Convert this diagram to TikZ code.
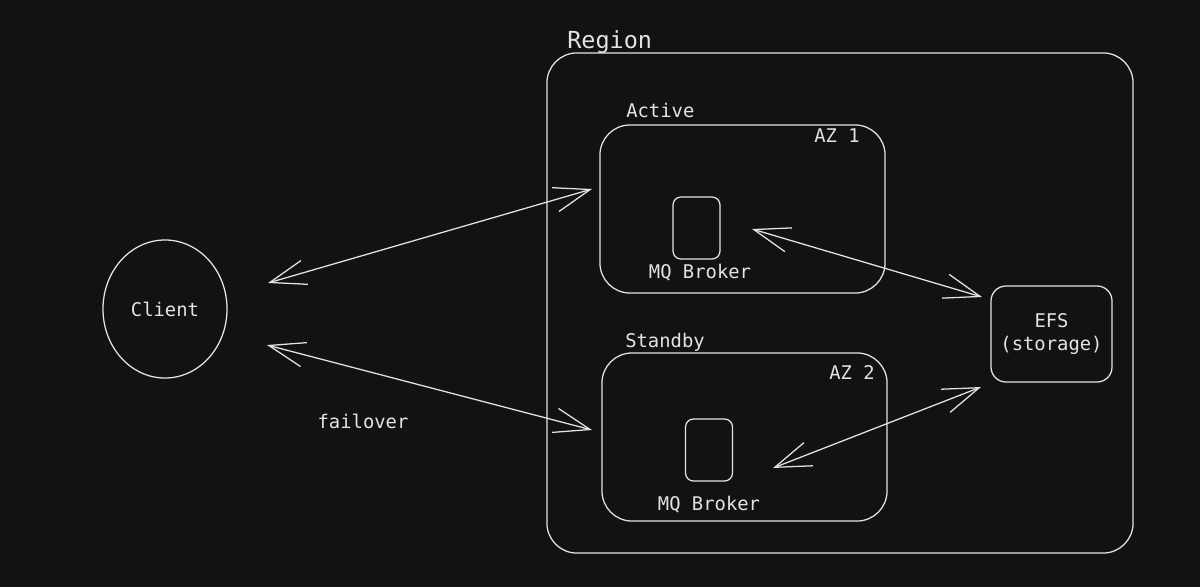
\documentclass[tikz,border=0pt]{standalone}
\usepackage{fontspec}
\setmonofont{DejaVu Sans Mono}
\usetikzlibrary{shapes.geometric,arrows.meta}
\definecolor{bgdark}{HTML}{121212}
\definecolor{ink}{HTML}{E3E3E3}

\begin{document}
\begin{tikzpicture}[x=0.025cm, y=-0.025cm,
  sketch/.style={draw=ink, line width=0.9pt},
  zone/.style={sketch, rounded corners=0.75cm, minimum width=7.125cm, minimum height=4.2cm},
  broker/.style={sketch, rounded corners=0.2cm, minimum width=1.175cm, minimum height=1.55cm},
  txt/.style={text=ink, font=\ttfamily\fontsize{13.4}{17}\selectfont, inner sep=0pt},
  link/.style={draw=ink, line width=0.9pt,
    {Straight Barb[length=9mm,width=6.2mm]}-{Straight Barb[length=9mm,width=6.2mm]}},
]
\fill[bgdark] (0,0) rectangle (1200,587);
\useasboundingbox (0,0) rectangle (1200,587);

% === REGION with two availability zones ===
\node[sketch, rounded corners=0.75cm, minimum width=14.65cm, minimum height=12.5cm] (region) at (840,303) {};
\node[txt, anchor=base west, font=\ttfamily\fontsize{16.7}{20}\selectfont] (region-lbl) at (567,48) {Region};

\node[zone] (az1) at (742.5,209) {};
\node[txt, anchor=base west] (az1-role) at (626,117) {Active};
\node[txt, anchor=base east] (az1-lbl)  at (860,142) {AZ 1};
\node[broker] (brk1) at (696.5,228) {};
\node[txt, anchor=base] (brk1-lbl) at (700,278) {MQ Broker};

\node[zone] (az2) at (744.5,437) {};
\node[txt, anchor=base west] (az2-role) at (625,347) {Standby};
\node[txt, anchor=base east] (az2-lbl)  at (875,379) {AZ 2};
\node[broker] (brk2) at (709,450) {};
\node[txt, anchor=base] (brk2-lbl) at (709,510) {MQ Broker};

% shared storage
\node[sketch, txt, inner sep=0pt, rounded corners=0.375cm, minimum width=3.025cm, minimum height=2.4cm, align=center] (efs) at (1051.5,334) {EFS\\(storage)};

% === CLIENT ===
\node[sketch, txt, ellipse, minimum width=3.1cm, minimum height=3.45cm] (client) at (165,309) {Client};
\node[txt, anchor=base] (failover) at (363,428) {failover};

% arrow ends
\coordinate (cl-act) at (268,283);
\coordinate (act-in) at (592,189);
\coordinate (cl-stb) at (267,345);
\coordinate (stb-in) at (592,430);
\coordinate (brk1-r) at (752,229);
\coordinate (efs-up) at (982,297);
\coordinate (brk2-r) at (773,468);
\coordinate (efs-dn) at (981,387);

\draw[link] (cl-act) -- (act-in);
\draw[link] (cl-stb) -- (stb-in);
\draw[link] (brk1-r) -- (efs-up);
\draw[link] (brk2-r) -- (efs-dn);
\end{tikzpicture}
\end{document}
